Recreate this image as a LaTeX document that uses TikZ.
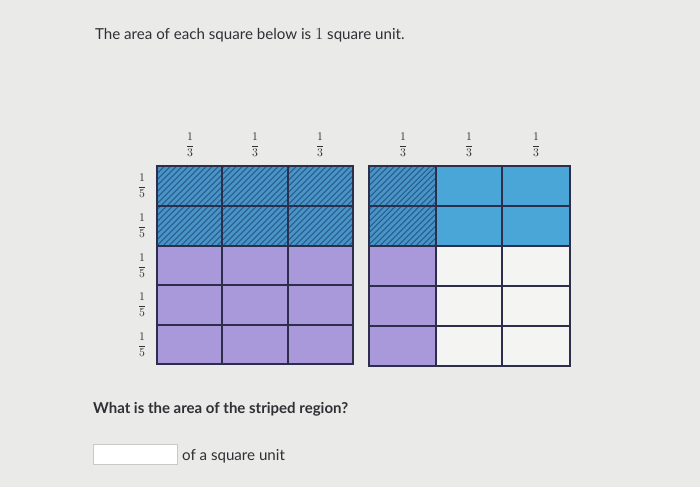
\documentclass[tikz,border=0pt]{standalone}
\usepackage{amsmath}
\usepackage{fontspec}
\setmainfont{Lato}
\usetikzlibrary{positioning,patterns.meta}

\definecolor{bgGray}{HTML}{EAEAE8}
\definecolor{stripeBlue}{HTML}{4A93C6}
\definecolor{stripeDark}{HTML}{25608F}
\definecolor{lightBlue}{HTML}{4BA6D8}
\definecolor{purpleCell}{HTML}{A999DA}
\definecolor{whiteCell}{HTML}{F4F4F3}
\definecolor{gridNavy}{HTML}{2C2E4C}
\definecolor{textGray}{HTML}{2F2F35}
\definecolor{boxGray}{HTML}{C9C9C9}

\tikzset{
  gridline/.style={draw=gridNavy, line width=1.5pt},
  striped/.style={pattern={Lines[angle=45,distance=4pt,line width=1.3pt]}, pattern color=stripeDark},
  frac/.style={font=\normalsize, text=textGray},
  prompt/.style={text=textGray, font=\fontsize{12.9}{15}\selectfont}
}

\begin{document}
\begin{tikzpicture}[x=0.03cm,y=-0.03cm]
\fill[bgGray] (0,0) rectangle (700,487);
\useasboundingbox (0,0) rectangle (700,487);

\node[prompt, anchor=west] (title) at (91,35) {The area of each square below is {\fontsize{15}{15}\selectfont$1$} square unit.};

% left square
\fill[purpleCell] (157,246) rectangle (353,364);
\fill[stripeBlue] (157,166) rectangle (353,246);
\fill[striped] (157,166) rectangle (353,246);
\draw[gridline] (157,166) rectangle (353,364);
\draw[gridline] (222,166) -- (222,364);
\draw[gridline] (288,166) -- (288,364);
\draw[gridline] (157,206) -- (353,206);
\draw[gridline] (157,246) -- (353,246);
\draw[gridline] (157,285) -- (353,285);
\draw[gridline] (157,325) -- (353,325);

% right square
\fill[whiteCell] (436,246) rectangle (570,366);
\fill[purpleCell] (369,246) rectangle (436,366);
\fill[lightBlue] (436,166) rectangle (570,246);
\fill[stripeBlue] (369,166) rectangle (436,246);
\fill[striped] (369,166) rectangle (436,246);
\draw[gridline] (369,166) rectangle (570,366);
\draw[gridline] (436,166) -- (436,366);
\draw[gridline] (502,166) -- (502,366);
\draw[gridline] (369,206) -- (570,206);
\draw[gridline] (369,246) -- (570,246);
\draw[gridline] (369,286) -- (570,286);
\draw[gridline] (369,326) -- (570,326);

% thirds
\node[frac] (topA) at (190,145) {$\dfrac{1}{3}$};
\node[frac] (topB) at (255,145) {$\dfrac{1}{3}$};
\node[frac] (topC) at (320,145) {$\dfrac{1}{3}$};
\node[frac] (topD) at (403,145) {$\dfrac{1}{3}$};
\node[frac] (topE) at (469,145) {$\dfrac{1}{3}$};
\node[frac] (topF) at (536,145) {$\dfrac{1}{3}$};

% fifths
\node[frac] (sideA) at (142,186) {$\dfrac{1}{5}$};
\node[frac] (sideB) at (142,226) {$\dfrac{1}{5}$};
\node[frac] (sideC) at (142,266) {$\dfrac{1}{5}$};
\node[frac] (sideD) at (142,305) {$\dfrac{1}{5}$};
\node[frac] (sideE) at (142,345) {$\dfrac{1}{5}$};

\node[prompt, anchor=west, font=\fontsize{12.8}{15}\selectfont\bfseries] (question) at (89,409) {What is the area of the striped region?};
\node[draw=boxGray, fill=white, line width=0.8pt, minimum width=2.52cm, minimum height=0.6cm, anchor=north west] (answer) at (93,444) {};
\node[prompt, right=0pt of answer, yshift=-1.5pt] (unitText) {of a square unit};
\end{tikzpicture}
\end{document}
